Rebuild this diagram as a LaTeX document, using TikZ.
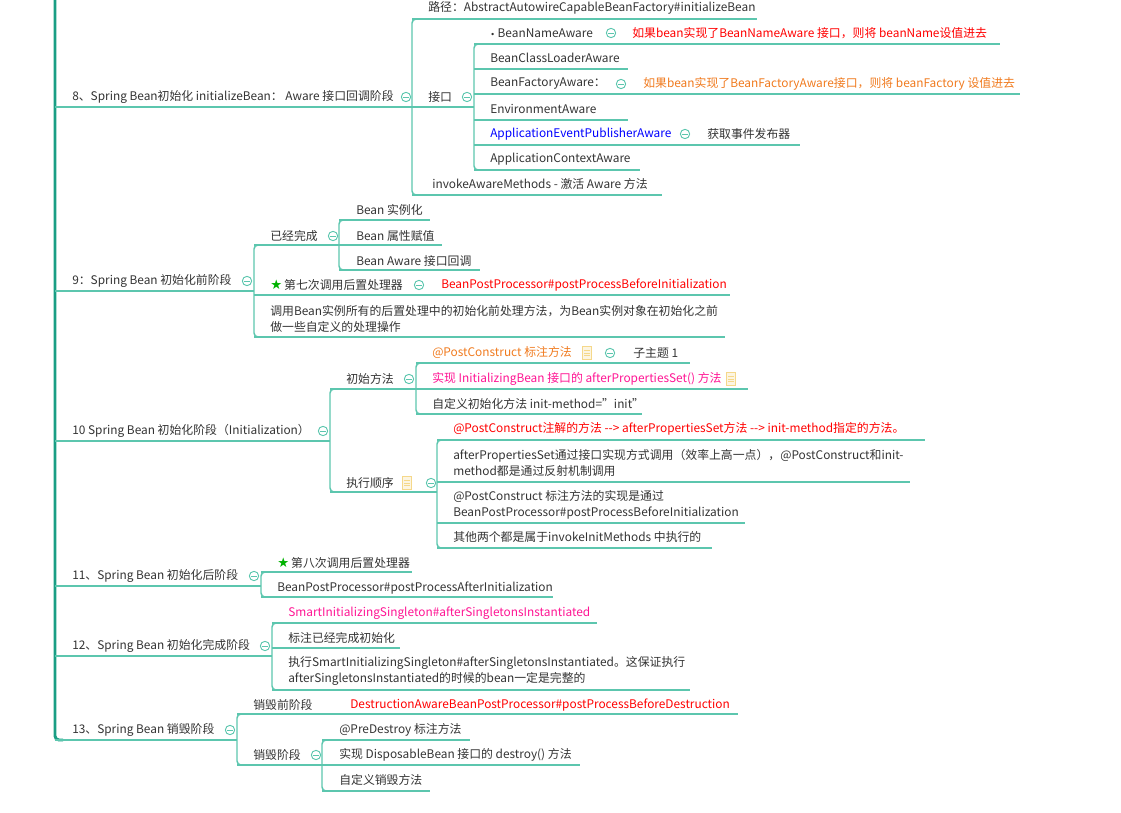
\documentclass[tikz,border=0pt]{standalone}
\usepackage{fontspec}
\setmainfont{Noto Sans CJK SC}[Ligatures=NoCommon]
\newfontfamily\symfont{DejaVu Sans}
\definecolor{trunk}{HTML}{1A9E84}
\definecolor{br}{HTML}{5CC6AE}
\definecolor{txt}{HTML}{333333}
\definecolor{rd}{HTML}{FF0000}
\definecolor{og}{HTML}{F07A1E}
\definecolor{mg}{HTML}{FF1493}
\definecolor{bl}{HTML}{0000FF}
\definecolor{notey}{HTML}{F5D88A}
\newcommand{\gstar}{{\symfont\fontsize{10}{12}\selectfont\color{green!70!black}★}\,}
\newcommand{\dq}{\symbol{34}}
\tikzset{
 t/.style={anchor=west,inner sep=0pt,font=\fontsize{8.9}{12}\selectfont,text=txt,align=left},
 ul/.style={draw=br,line width=1.1pt},
 brl/.style={draw=br,line width=1.1pt,rounded corners=3pt},
 col/.style={circle,draw=br,line width=0.7pt,minimum size=7pt,inner sep=0pt,path picture={\draw[br,line width=0.7pt]([xshift=-2pt]path picture bounding box.center)--([xshift=2pt]path picture bounding box.center);}},
 notei/.style={draw=notey,fill=notey!25,minimum width=7pt,minimum height=10pt,inner sep=0pt,line width=0.6pt,path picture={\foreach \k in {-2,0,2}{\draw[notey,line width=0.5pt]([xshift=-2pt,yshift=\k pt]path picture bounding box.center)--([xshift=2pt,yshift=\k pt]path picture bounding box.center);}}},
}
\newcommand{\brc}[3]{\draw[brl] (#1+8,#2) -- (#1,#2) -- (#1,#3) -- (#1+8,#3);}
\begin{document}
\begin{tikzpicture}[x=0.75pt,y=-0.75pt]
\useasboundingbox (0,0) rectangle (1121,813);
% trunk
\draw[trunk,line width=2.2pt,rounded corners=3pt] (55,-5) -- (55,740) -- (63,740);
% ---------- 8
\node[t] (n8) at (72,97) {8、Spring Bean初始化 initializeBean： Aware 接口回调阶段};
\node[col] (c8) at (406,97) {};
\draw[ul] (55,107) -- (412,107);
\brc{412}{19}{195}
\node[t] (p8) at (428,8) {路径：AbstractAutowireCapableBeanFactory\#initializeBean};
\draw[ul] (412,19) -- (757,19);
\node[t] (jk) at (428,97) {接口};
\node[col] (cjk) at (467,97) {};
\draw[ul] (412,107) -- (474,107);
\node[t] (iam) at (432,184) {invokeAwareMethods - 激活 Aware 方法};
\draw[ul] (412,195) -- (662,195);
\brc{474}{44}{170}
\node[t] (a1) at (490,33) {{\symfont\fontsize{6}{8}\selectfont•} BeanNameAware};
\node[col] (ca1) at (611,33) {};
\node[t,text=rd] (a1d) at (632,33) {如果bean实现了BeanNameAware 接口，则将 beanName设值进去};
\draw[ul] (474,44) -- (1000,44);
\node[t] (a2) at (490,58) {BeanClassLoaderAware};
\draw[ul] (474,69) -- (628,69);
\node[t] (a3) at (490,84) {BeanFactoryAware：};
\node[col] (ca3) at (621,84) {};
\node[t,text=og] (a3d) at (643,84) {如果bean实现了BeanFactoryAware接口，则将 beanFactory 设值进去};
\draw[ul] (474,94) -- (1020,94);
\node[t] (a4) at (490,109) {EnvironmentAware};
\draw[ul] (474,120) -- (628,120);
\node[t,text=bl] (a5) at (490,134) {ApplicationEventPublisherAware};
\node[col] (ca5) at (685,134) {};
\node[t] (a5d) at (707,134) {获取事件发布器};
\draw[ul] (474,145) -- (800,145);
\node[t] (a6) at (490,159) {ApplicationContextAware};
\draw[ul] (474,170) -- (640,170);
% ---------- 9
\node[t] (n9) at (72,281) {9：Spring Bean 初始化前阶段};
\node[col] (c9) at (247,281) {};
\draw[ul] (55,291) -- (254,291);
\brc{254}{245}{337}
\node[t] (yw) at (270,236) {已经完成};
\node[col] (cyw) at (333,236) {};
\draw[ul] (254,245) -- (339,245);
\brc{339}{220}{270}
\node[t] (b1) at (356,210) {Bean 实例化};
\draw[ul] (339,220) -- (430,220);
\node[t] (b2) at (356,236) {Bean 属性赋值};
\draw[ul] (339,245) -- (442,245);
\node[t] (b3) at (356,261) {Bean Aware 接口回调};
\draw[ul] (339,270) -- (480,270);
\node[t] (d7) at (270,285) {\gstar 第七次调用后置处理器};
\node[col] (cd7) at (419,285) {};
\node[t,text=rd] (d7d) at (441,285) {BeanPostProcessor\#postProcessBeforeInitialization};
\draw[ul] (254,295) -- (730,295);
\node[t] (d9) at (270,319) {调用Bean实例所有的后置处理中的初始化前处理方法，为Bean实例对象在初始化之前\\做一些自定义的处理操作};
\draw[ul] (254,337) -- (725,337);
% ---------- 10
\node[t] (n10) at (72,431) {10 Spring Bean 初始化阶段（Initialization）};
\node[col] (c10) at (323,431) {};
\draw[ul] (55,441) -- (330,441);
\brc{330}{389}{492}
\node[t] (cs) at (346,379) {初始方法};
\node[col] (ccs) at (409,379) {};
\draw[ul] (330,389) -- (416,389);
\brc{416}{363}{414}
\node[t,text=og] (e1) at (432,353) {@PostConstruct 标注方法};
\node[notei] (ne1) at (587,353) {};
\node[col] (ce1) at (610,353) {};
\node[t] (e1d) at (633,353) {子主题 1};
\draw[ul] (416,363) -- (690,363);
\node[t,text=mg] (e2) at (432,379) {实现 InitializingBean 接口的 afterPropertiesSet() 方法};
\node[notei] (ne2) at (731,379) {};
\draw[ul] (416,389) -- (748,389);
\node[t] (e3) at (432,404) {自定义初始化方法 init-method=\dq init\dq};
\draw[ul] (416,414) -- (642,414);
\node[t] (zx) at (346,483) {执行顺序};
\node[notei] (nzx) at (407,483) {};
\node[col] (czx) at (431,483) {};
\draw[ul] (330,492) -- (437,492);
\brc{437}{440}{548}
\node[t,text=rd] (f1) at (453,429) {@PostConstruct注解的方法 -{}-> afterPropertiesSet方法 -{}-> init-method指定的方法。};
\draw[ul] (437,440) -- (925,440);
\node[t] (f2) at (453,463) {afterPropertiesSet通过接口实现方式调用（效率上高一点），@PostConstruct和init-\\method都是通过反射机制调用};
\draw[ul] (437,482) -- (910,482);
\node[t] (f3) at (453,505) {@PostConstruct 标注方法的实现是通过\\BeanPostProcessor\#postProcessBeforeInitialization};
\draw[ul] (437,523) -- (745,523);
\node[t] (f4) at (453,537) {其他两个都是属于invokeInitMethods 中执行的};
\draw[ul] (437,548) -- (712,548);
% ---------- 11
\node[t] (n11) at (72,576) {11、Spring Bean 初始化后阶段};
\node[col] (c11) at (254,576) {};
\draw[ul] (55,586) -- (261,586);
\brc{261}{572}{597}
\node[t] (g1) at (277,563) {\gstar 第八次调用后置处理器};
\draw[ul] (261,572) -- (412,572);
\node[t] (g2) at (277,588) {BeanPostProcessor\#postProcessAfterInitialization};
\draw[ul] (261,597) -- (553,597);
% ---------- 12
\node[t] (n12) at (72,646) {12、Spring Bean 初始化完成阶段};
\node[col] (c12) at (265,646) {};
\draw[ul] (55,656) -- (272,656);
\brc{272}{623}{690}
\node[t,text=mg] (h1) at (288,613) {SmartInitializingSingleton\#afterSingletonsInstantiated};
\draw[ul] (272,623) -- (597,623);
\node[t] (h2) at (288,638) {标注已经完成初始化};
\draw[ul] (272,648) -- (400,648);
\node[t] (h3) at (288,671) {执行SmartInitializingSingleton\#afterSingletonsInstantiated。这保证执行\\afterSingletonsInstantiated的时候的bean一定是完整的};
\draw[ul] (272,690) -- (690,690);
% ---------- 13
\node[t] (n13) at (72,730) {13、Spring Bean 销毁阶段};
\node[col] (c13) at (230,730) {};
\draw[ul] (55,740) -- (237,740);
\brc{237}{714}{765}
\node[t] (k1) at (253,705) {销毁前阶段};
\node[t,text=rd] (k1d) at (350,705) {DestructionAwareBeanPostProcessor\#postProcessBeforeDestruction};
\draw[ul] (237,714) -- (738,714);
\node[t] (k2) at (253,755) {销毁阶段};
\node[col] (ck2) at (316,755) {};
\draw[ul] (237,765) -- (322,765);
\brc{322}{740}{791}
\node[t] (m1) at (339,730) {@PreDestroy 标注方法};
\draw[ul] (322,740) -- (470,740);
\node[t] (m2) at (339,755) {实现 DisposableBean 接口的 destroy() 方法};
\draw[ul] (322,765) -- (580,765);
\node[t] (m3) at (339,780) {自定义销毁方法};
\draw[ul] (322,791) -- (430,791);
\end{tikzpicture}
\end{document}
